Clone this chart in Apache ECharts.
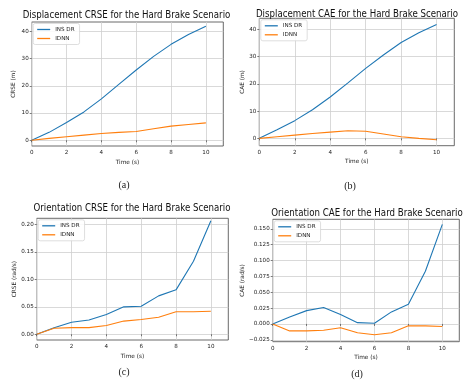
<!DOCTYPE html>
<html><head><meta charset="utf-8">
<script src="https://cdn.jsdelivr.net/npm/echarts@6/dist/echarts.min.js"></script>
<style>html,body{margin:0;padding:0;background:#fff}#c{width:474px;height:385px}</style>
</head><body><div id="c"></div>
<script>
const time = [0,1,2,3,4,5,6,7,8,9,10];
const xTicks = [0,2,4,6,8,10];
// (a) Displacement CRSE
const dispCrseIns  = [0,2.9,6.5,10.4,15.2,20.5,25.8,30.8,35.2,38.8,41.8];
const dispCrseIdnn = [0,0.7,1.3,1.9,2.5,2.9,3.2,4.2,5.2,5.8,6.4];
// (b) Displacement CAE
const dispCaeIns   = [0,3.2,6.5,10.5,15.2,20.4,25.7,30.6,35.2,38.8,41.8];
const dispCaeIdnn  = [0,0.6,1.2,1.8,2.3,2.8,2.6,1.6,0.6,0.0,-0.5];
// (c) Orientation CRSE
const oriCrseIns   = [0,0.012,0.022,0.026,0.036,0.050,0.051,0.070,0.081,0.133,0.207];
const oriCrseIdnn  = [0,0.011,0.012,0.012,0.016,0.024,0.027,0.031,0.041,0.041,0.042];
// (d) Orientation CAE
const oriCaeIns    = [0,0.011,0.021,0.026,0.015,0.002,0.001,0.019,0.031,0.083,0.157];
const oriCaeIdnn   = [0,-0.011,-0.011,-0.010,-0.006,-0.014,-0.017,-0.014,-0.003,-0.003,-0.004];
// tick labels
const yTicksDisp = [0,10,20,30,40];
const yTicksOriCrse = [0,0.05,0.10,0.15,0.20];
const yTicksOriCae = [-0.025,0,0.025,0.050,0.075,0.100,0.125,0.150];

const titles = ['Displacement CRSE for the Hard Brake Scenario','Displacement CAE for the Hard Brake Scenario',
  'Orientation CRSE for the Hard Brake Scenario','Orientation CAE for the Hard Brake Scenario'];
const captions = ['(a)','(b)','(c)','(d)'];
const yNames = ['CRSE (m)','CAE (m)','CRSE (rad/s)','CAE (rad/s)'];
const seriesNames = ['INS DR','IDNN'];

const BLUE = '#1f77b4', ORANGE = '#ff7f0e';
const FONT = 'DejaVu Sans';
const grids = [
  {left:31.7, top:22, width:191.6, height:124},
  {left:259.3, top:18.3, width:195, height:127.4},
  {left:36.7, top:218.3, width:191.6, height:121.7},
  {left:272.7, top:219.3, width:186.6, height:122.4}
];
const yRanges = [[-2.1,43.4],[-2.7,44.1],[-0.0105,0.2115],[-0.028,0.165]];
const yTickSets = [yTicksDisp, yTicksDisp, yTicksOriCrse, yTicksOriCae];
const yFmt = [v=>String(v), v=>String(v), v=>v.toFixed(2), v=>(v<0?'\u2212':'')+Math.abs(v).toFixed(3)];
const yNameGap = [15, 14, 19, 25];
const dataSets = [[dispCrseIns,dispCrseIdnn],[dispCaeIns,dispCaeIdnn],[oriCrseIns,oriCrseIdnn],[oriCaeIns,oriCaeIdnn]];
const titlePos = [{x:126.5,y:10.5},{x:357,y:9},{x:132,y:203.5},{x:367,y:208}];
const capPos = [{x:124,y:180},{x:350,y:181},{x:124,y:367.5},{x:357,y:369}];

const option = {
  animation:false,
  backgroundColor:'#fff',
  title:[], grid:[], xAxis:[], yAxis:[], series:[], legend:[]
};
for (let i=0;i<4;i++){
  const g = grids[i];
  option.grid.push(Object.assign({show:true, borderColor:'#444', borderWidth:0.8, containLabel:false}, g));
  option.title.push({text:titles[i], left:titlePos[i].x, top:titlePos[i].y, textAlign:'center', padding:0,
    textStyle:{fontFamily:"'DejaVu Sans Condensed', 'Liberation Sans', sans-serif", fontSize:9.6, fontWeight:'normal', color:'#111'}});
  option.title.push({text:captions[i], left:capPos[i].x, top:capPos[i].y, textAlign:'center', padding:0,
    textStyle:{fontFamily:'Liberation Serif', fontSize:10, fontWeight:'normal', color:'#222'}});
  option.xAxis.push({type:'value', gridIndex:i, min:0, max:11,
    name:'Time (s)', nameLocation:'middle', nameGap:13,
    nameTextStyle:{fontFamily:FONT, fontSize:5.8, color:'#222'},
    axisLine:{show:false},
    axisTick:{show:true, length:2, customValues:xTicks, lineStyle:{color:'#444', width:0.7}},
    axisLabel:{customValues:xTicks, fontFamily:FONT, fontSize:5.6, color:'#222', margin:3.5},
    splitLine:{show:true, lineStyle:{color:'#cfcfcf', width:0.8}}});
  option.yAxis.push({type:'value', gridIndex:i, min:yRanges[i][0], max:yRanges[i][1],
    name:yNames[i], nameLocation:'middle', nameGap:yNameGap[i],
    nameTextStyle:{fontFamily:FONT, fontSize:5.8, color:'#222'},
    axisLine:{show:false},
    axisTick:{show:true, length:2, customValues:yTickSets[i], lineStyle:{color:'#444', width:0.7}},
    axisLabel:{customValues:yTickSets[i], formatter:yFmt[i], fontFamily:FONT, fontSize:5.6, color:'#222', margin:3},
    splitLine:{show:true, lineStyle:{color:'#cfcfcf', width:0.8}}});
  for (let s=0;s<2;s++){
    option.series.push({type:'line', name:seriesNames[s], xAxisIndex:i, yAxisIndex:i,
      data: time.map((t,k)=>[t, dataSets[i][s][k]]),
      showSymbol:false, symbol:'none', lineStyle:{width:1.1, color:s?ORANGE:BLUE}, itemStyle:{color:s?ORANGE:BLUE}});
  }
  option.legend.push({data:seriesNames, orient:'vertical', left:g.left+1.5, top:g.top+1.5,
    backgroundColor:'rgba(255,255,255,0.85)', borderColor:'#d6d6d6', borderWidth:0.8, borderRadius:2,
    padding:[3,5,3,4], itemGap:3, itemWidth:13, itemHeight:1.3, icon:'rect',
    textStyle:{fontFamily:FONT, fontSize:5.6, color:'#222', padding:[0,0,0,0]}});
}
const chart = echarts.init(document.getElementById('c'), null, {renderer:'canvas'});
chart.setOption(option);
</script></body></html>
